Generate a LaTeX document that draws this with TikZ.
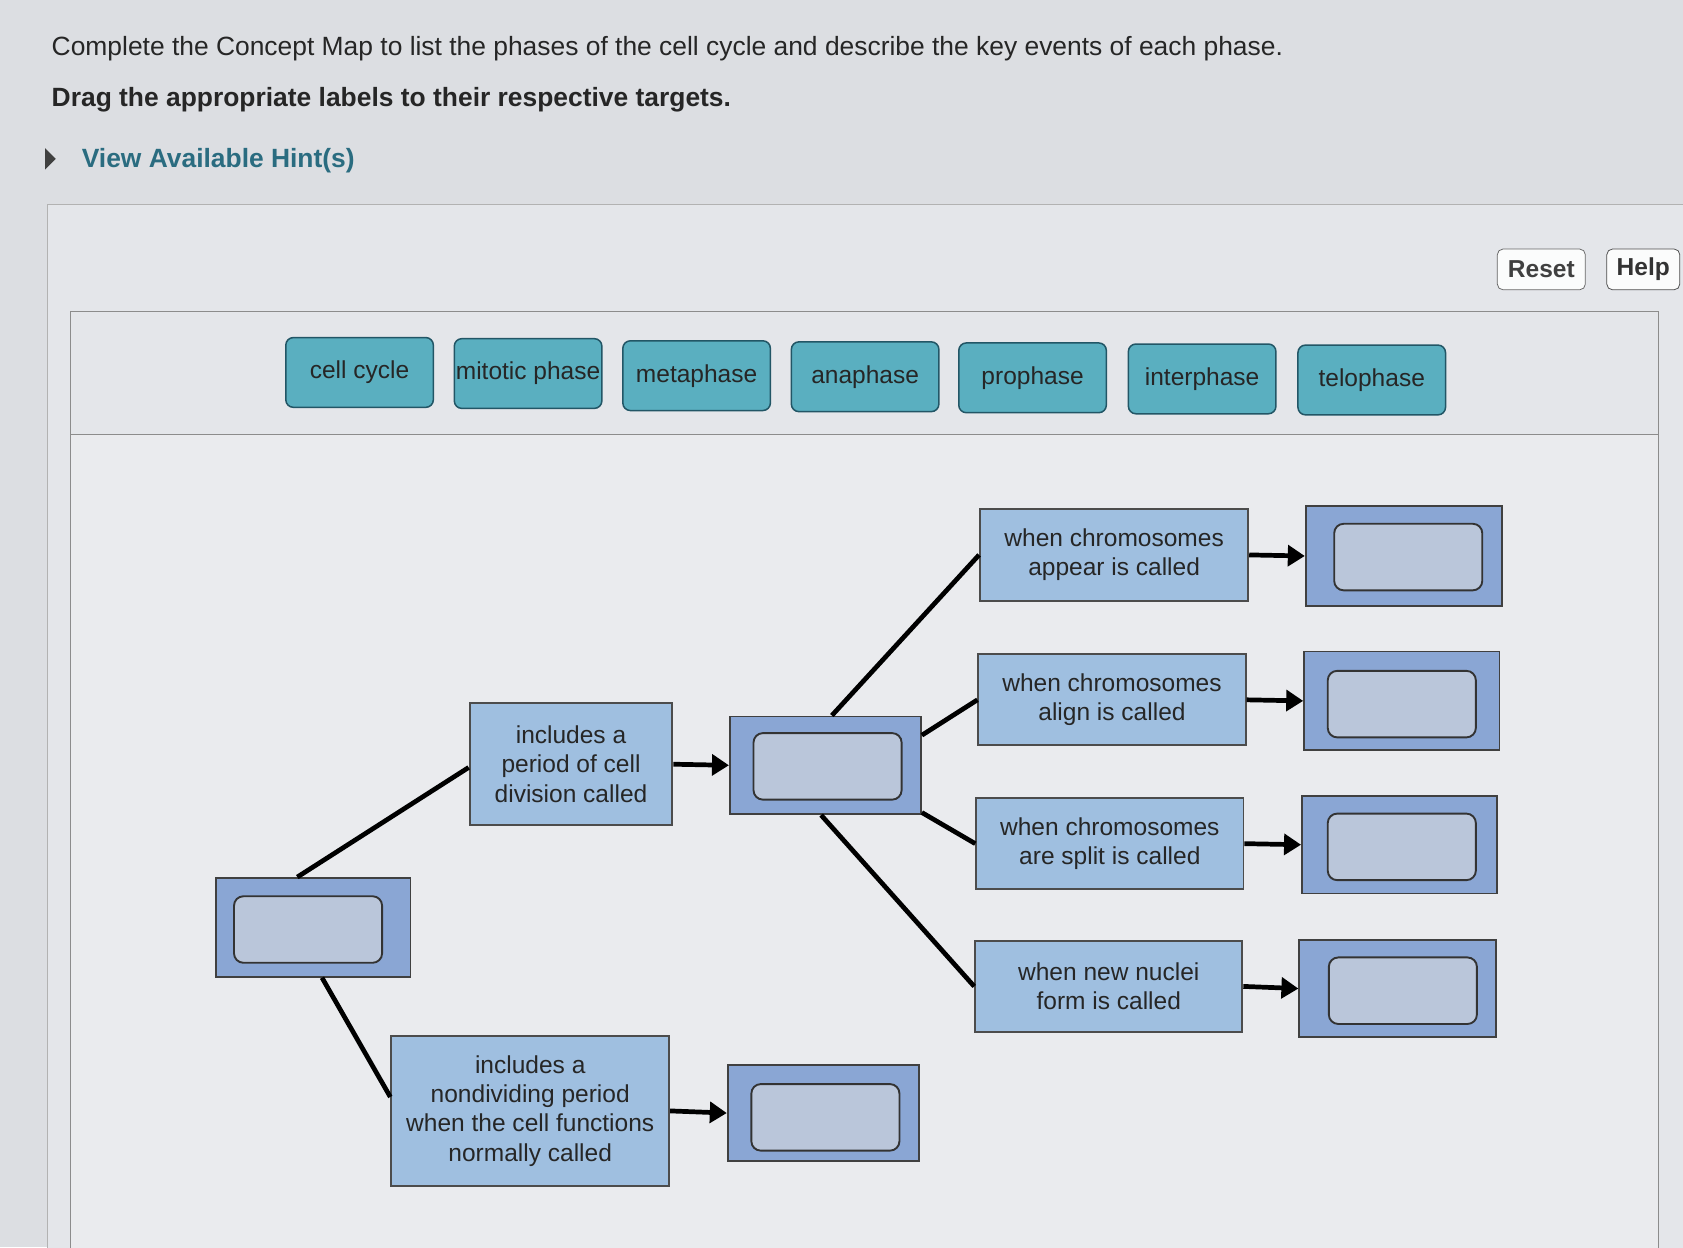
\documentclass[tikz,border=0pt]{standalone}
\usepackage{fontspec}
\setmainfont{Liberation Sans}
\usetikzlibrary{arrows.meta}
\definecolor{bg}{HTML}{DCDEE2}
\definecolor{panel}{HTML}{E4E6EA}
\definecolor{chip}{HTML}{5AAFC0}
\definecolor{boxb}{HTML}{9FBFE0}
\definecolor{tgt}{HTML}{8AA6D4}
\definecolor{inner}{HTML}{BAC6DA}
\definecolor{teal}{HTML}{2A6C80}
\begin{document}
\begin{tikzpicture}[x=0.02cm,y=-0.02cm,
 chipst/.style={draw=teal!80!black,fill=chip,rounded corners=4pt,line width=0.8pt,minimum width=2.75cm,minimum height=1.3cm,font=\fontsize{13}{15}\selectfont,text=black!85,inner sep=0pt},
 txt/.style={draw=black!70,fill=boxb,line width=1pt,align=center,font=\fontsize{13}{15.5}\selectfont,text=black!85,inner sep=0pt},
 tg/.style={draw=black!75,fill=tgt,line width=1pt,inner sep=0pt},
 innerbox/.style={draw=black!80,fill=inner,rounded corners=5pt,line width=1pt,inner sep=0pt,minimum width=2.76cm,minimum height=1.24cm},
 ln/.style={line width=2.5pt,black},
 ar/.style={line width=2.5pt,-{Triangle[length=9pt,width=11pt]}}]
\useasboundingbox (0,0) rectangle (1568,1162);
\fill[bg] (0,0) rectangle (1568,1162);
\node[anchor=west,font=\fontsize{14}{16}\selectfont,text=black!85] (t1) at (42,45) {Complete the Concept Map to list the phases of the cell cycle and describe the key events of each phase.};
\node[anchor=west,font=\bfseries\fontsize{14}{16}\selectfont,text=black!85] (t2) at (42,93) {Drag the appropriate labels to their respective targets.};
\fill[black!75] (42,138) -- (52,148) -- (42,158) -- cycle;
\node[anchor=west,font=\bfseries\fontsize{14}{16}\selectfont,text=teal] (t3) at (70,150) {View Available Hint(s)};
\draw[black!30,fill=panel] (44,190) rectangle (1580,1170);
\node[draw=black!60,fill=white!90!bg,rounded corners=3pt,minimum width=1.64cm,minimum height=0.76cm,font=\bfseries\fontsize{13}{15}\selectfont,text=black!75,inner sep=0pt] (reset) at (1436,251) {Reset};
\node[draw=black!70,fill=white!90!bg,rounded corners=3pt,minimum width=1.36cm,minimum height=0.76cm,font=\bfseries\fontsize{13}{15}\selectfont,text=black!80,inner sep=0pt] (help) at (1531,251) {Help};
\draw[black!45,fill=bg!60!white] (66,290) rectangle (1545,1170);
\draw[black!45,fill=panel] (66,290) rectangle (1545,405);
\node[chipst] (c1) at (335,347) {cell cycle};
\node[chipst] (c2) at (492,348) {mitotic phase};
\node[chipst] (c3) at (649,350) {metaphase};
\node[chipst] (c4) at (806,351) {anaphase};
\node[chipst] (c5) at (962,352) {prophase};
\node[chipst] (c6) at (1120,353) {interphase};
\node[chipst] (c7) at (1278,354) {telophase};
% targets
\node[tg,minimum width=3.62cm,minimum height=1.84cm] (root) at (292,864) {};
\node[innerbox] (rooti) at (287,866) {};
\node[tg,minimum width=3.56cm,minimum height=1.82cm] (mit) at (769,713) {};
\node[innerbox] (miti) at (771,714) {};
\node[tg,minimum width=3.56cm,minimum height=1.8cm] (int) at (767,1037) {};
\node[innerbox] (inti) at (769,1041) {};
\node[tg,minimum width=3.66cm,minimum height=1.86cm] (r1) at (1308,518) {};
\node[innerbox] (r1i) at (1312,519) {};
\node[tg,minimum width=3.64cm,minimum height=1.84cm] (r2) at (1306,653) {};
\node[innerbox] (r2i) at (1306,656) {};
\node[tg,minimum width=3.64cm,minimum height=1.82cm] (r3) at (1304,787) {};
\node[innerbox] (r3i) at (1306,789) {};
\node[tg,minimum width=3.66cm,minimum height=1.82cm] (r4) at (1302,921) {};
\node[innerbox] (r4i) at (1307,923) {};
% texts
\node[txt,minimum width=3.78cm,minimum height=2.28cm] (div) at (532,712) {includes a\\period of cell\\division called};
\node[txt,minimum width=5.18cm,minimum height=2.8cm] (non) at (494,1035) {includes a\\nondividing period\\when the cell functions\\normally called};
\node[txt,minimum width=5cm,minimum height=1.72cm] (e1) at (1038,517) {when chromosomes\\appear is called};
\node[txt,minimum width=4.98cm,minimum height=1.7cm] (e2) at (1036,652) {when chromosomes\\align is called};
\node[txt,minimum width=4.98cm,minimum height=1.7cm] (e3) at (1034,786) {when chromosomes\\are split is called};
\node[txt,minimum width=4.98cm,minimum height=1.7cm] (e4) at (1033,919) {when new nuclei\\form is called};
% connectors
\draw[ln] (root.north -| 277,0) -- (div.west |- 0,715);
\draw[ln] (root.south -| 300,0) -- (non.west |- 0,1022);
\draw[ar] (div.east) -- (mit.west);
\draw[ar] (non.east) -- (int.west);
\draw[ln] (mit.north -| 775,0) -- (e1.west);
\draw[ln] (mit.east |- 0,685) -- (e2.west);
\draw[ln] (mit.east |- 0,757) -- (e3.west);
\draw[ln] (mit.south -| 765,0) -- (e4.west);
\draw[ar] (e1.east) -- (r1.west);
\draw[ar] (e2.east) -- (r2.west);
\draw[ar] (e3.east) -- (r3.west);
\draw[ar] (e4.east) -- (r4.west);
\end{tikzpicture}
\end{document}
